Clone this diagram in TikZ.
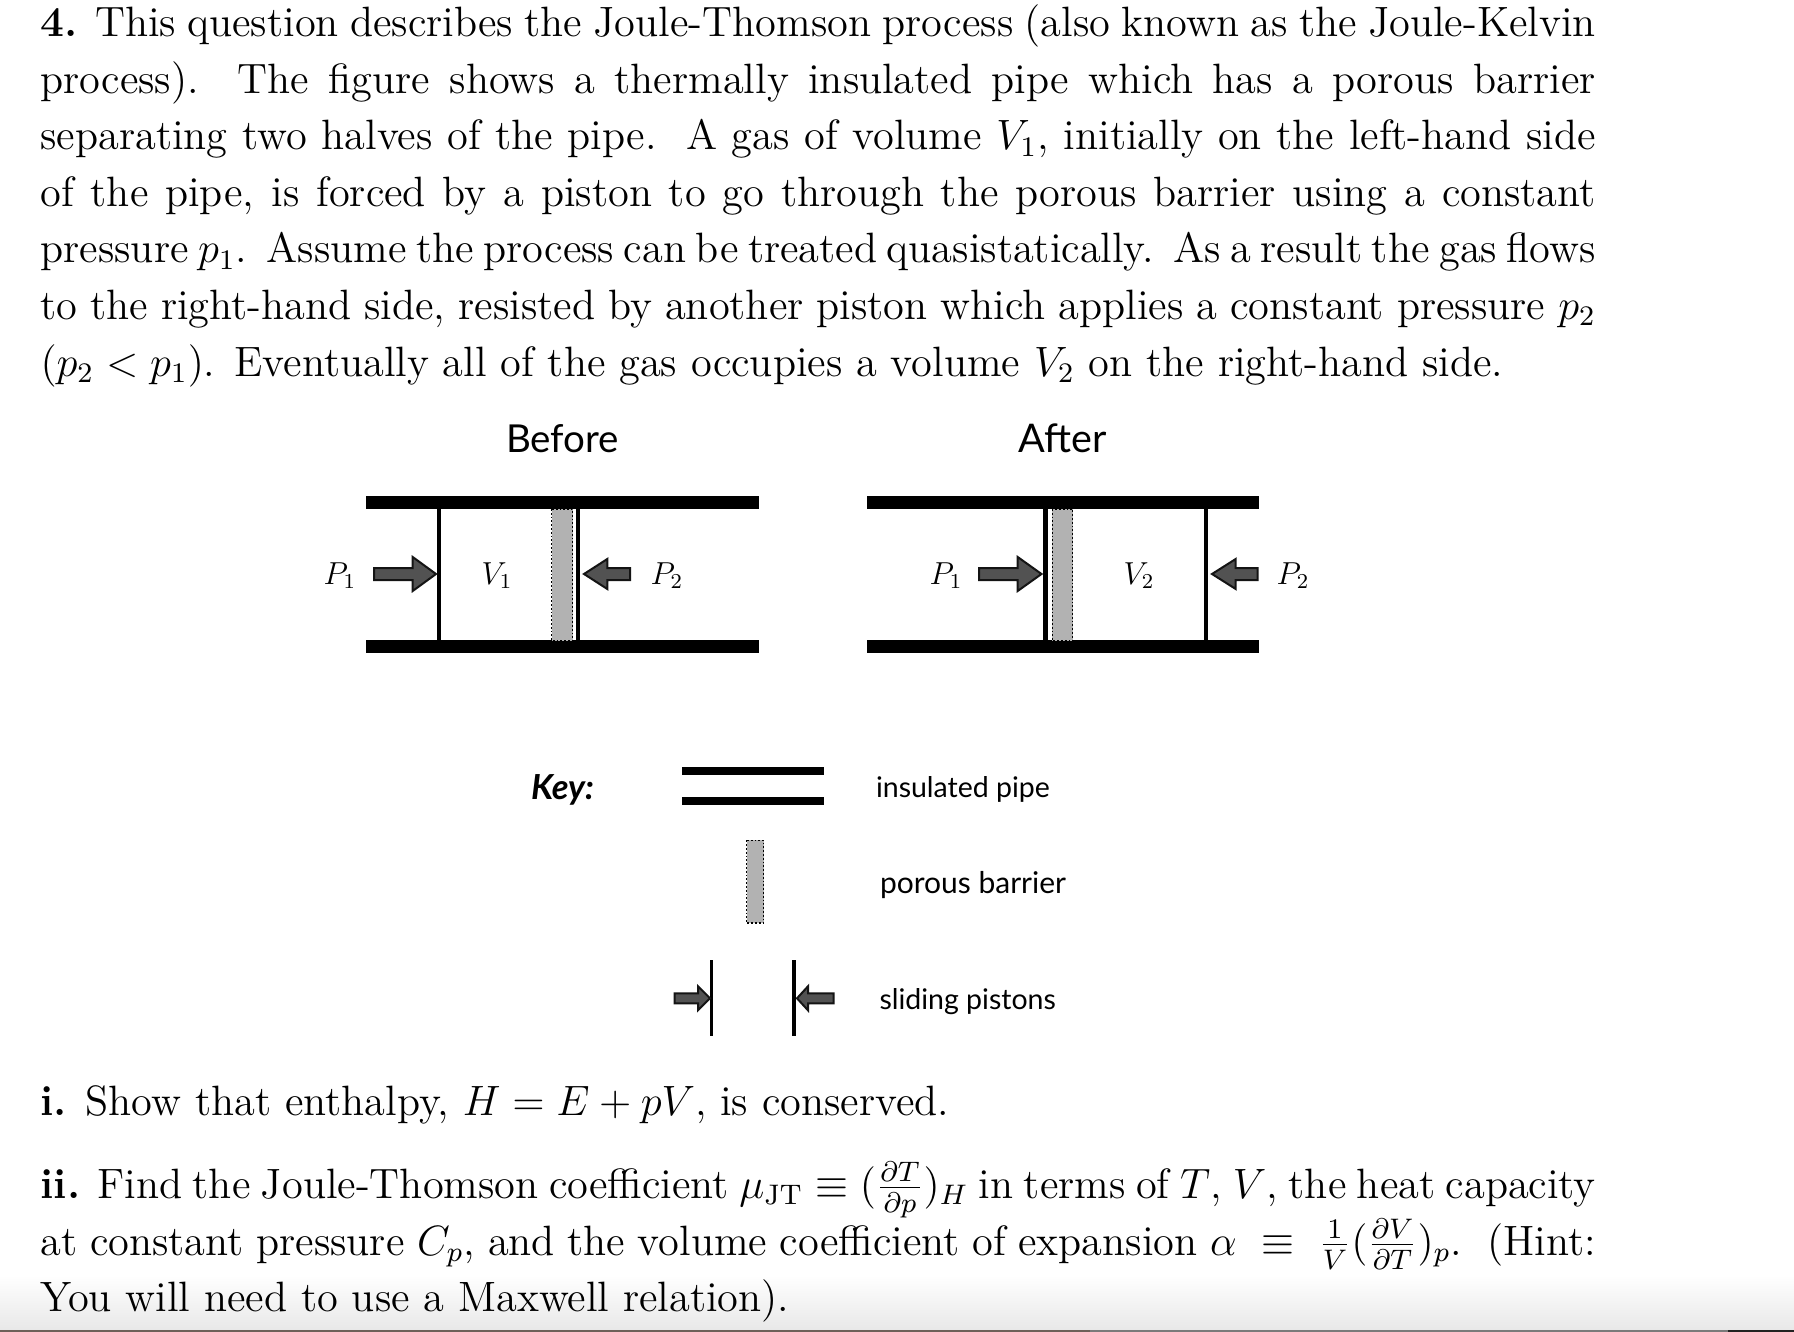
\documentclass[tikz,border=0pt]{standalone}
\usepackage{fontspec}
\usepackage{amsmath}
\newfontfamily\gillfont{Lato}
\newcommand{\bodyscale}{3.535}
\newcommand{\jline}[1]{\scalebox{\bodyscale}{\makebox[440pt][s]{\fontsize{12}{14.5}\selectfont #1}}}
\newcommand{\nline}[1]{\scalebox{\bodyscale}{\fontsize{12}{14.5}\selectfont #1}}
\newcommand{\mlabel}[1]{\scalebox{2.65}{\fontsize{12}{14.5}\selectfont$#1$}}
\newcommand{\sanslabel}[2]{{\gillfont\fontsize{#1}{#1}\selectfont #2}}
\newcommand{\pressarrow}[6]{% tip base tail y head-half shaft-half
  \draw[pressarrowstyle] (#3,#4-#6) -- (#2,#4-#6) -- (#2,#4-#5) -- (#1,#4) -- (#2,#4+#5) -- (#2,#4+#6) -- (#3,#4+#6) -- cycle;}
\definecolor{stripbrown}{HTML}{6D5F58}
\definecolor{stripgray}{HTML}{7A7A7A}
\definecolor{stripdark}{HTML}{222222}
\tikzset{
  bodytext/.style={anchor=base west,inner sep=0pt,outer sep=0pt},
  maintext/.style={anchor=base,inner sep=0pt,outer sep=0pt},
  pipebar/.style={fill=black,draw=none},
  barrier/.style={fill=black!30,draw=black,line width=1.4pt,dash pattern=on 1.8pt off 2pt},
  piston/.style={draw=black,line width=4pt},
  pressarrowstyle/.style={fill=black!68,draw=black!92,line width=2pt,miter limit=4},
}
\begin{document}
\begin{tikzpicture}[x=1pt,y=-1pt]
\useasboundingbox (0,0) rectangle (1794,1332);
\fill[white] (0,0) rectangle (1794,1332);
% bottom window shadow
\shade[top color=white,bottom color=black!9,draw=none] (0,1275) rectangle (1794,1330);
\fill[stripgray] (0,1330) rectangle (1794,1332);
\fill[stripbrown] (0,1330) rectangle (1090,1332);
\fill[stripdark] (1728,1330) rectangle (1794,1332);
% paragraph
\node[bodytext] (l1) at (40.5,37) {\jline{\textbf{4.} This question describes the Joule-Thomson process (also known as the Joule-Kelvin}};
\node[bodytext] (l2) at (40.5,93.5) {\jline{process).\ \ The figure shows a thermally insulated pipe which has a porous barrier}};
\node[bodytext] (l3) at (40.5,150) {\jline{separating two halves of the pipe.\ \ A gas of volume $V_1$, initially on the left-hand side}};
\node[bodytext] (l4) at (40.5,206.5) {\jline{of the pipe, is forced by a piston to go through the porous barrier using a constant}};
\node[bodytext] (l5) at (40.5,263) {\jline{pressure $p_1$.\ \ Assume the process can be treated quasistatically.\ \ As a result the gas flows}};
\node[bodytext] (l6) at (40.5,319.5) {\jline{to the right-hand side, resisted by another piston which applies a constant pressure $p_2$}};
\node[bodytext] (l7) at (40.5,376) {\nline{$(p_2<p_1)$.\hspace{5.4pt}Eventually all of the gas occupies a volume $V_2$ on the right-hand side.}};
% titles
\node[maintext] (before) at (562.7,452) {\sanslabel{38.5}{Before}};
\node[maintext] (after) at (1062.7,452) {\sanslabel{39.5}{After}};
% before
\fill[pipebar] (366,496.3) rectangle (758.7,509.3);
\fill[pipebar] (366,640) rectangle (758.7,653.3);
\draw[piston] (439.3,509) -- (439.3,640);
\draw[piston] (578.3,509) -- (578.3,640);
\draw[barrier] (551.7,509) rectangle (572.7,641);
\pressarrow{436}{412.7}{374}{574}{17}{6}
\pressarrow{584}{607.3}{630}{574}{15}{6}
\node[maintext] (p1a) at (340,584) {\mlabel{P_1}};
\node[maintext] (v1) at (497,584) {\mlabel{V_1}};
\node[maintext] (p2a) at (667,584) {\mlabel{P_2}};
% after
\fill[pipebar] (866.7,496.3) rectangle (1259.3,509.3);
\fill[pipebar] (866.7,640) rectangle (1259.3,653.3);
\draw[piston,line width=5pt] (1045,509) -- (1045,640);
\draw[piston] (1205.7,509) -- (1205.7,640);
\draw[barrier] (1052.3,509) rectangle (1072.7,641);
\pressarrow{1041.5}{1017.7}{979}{574}{17}{6}
\pressarrow{1212}{1235.7}{1257.5}{574}{15}{6}
\node[maintext] (p1b) at (946,584) {\mlabel{P_1}};
\node[maintext] (v2) at (1139,584) {\mlabel{V_2}};
\node[maintext] (p2b) at (1293,584) {\mlabel{P_2}};
% key
\node[bodytext] (key) at (531,799.5) {{\gillfont\bfseries\itshape\fontsize{34.5}{34.5}\selectfont Key:}};
\fill[pipebar] (681.8,767) rectangle (823.8,774.7);
\fill[pipebar] (681.8,797.3) rectangle (823.8,805);
\draw[barrier] (746.5,840.3) rectangle (763.7,923);
\draw[piston,line width=3.5pt] (711.6,960) -- (711.6,1036);
\draw[piston,line width=3.5pt] (793.9,960) -- (793.9,1036);
\pressarrow{710}{698}{674.5}{998.3}{12}{5}
\pressarrow{797}{808}{833.5}{998.3}{12}{5}
\node[bodytext] (kpipe) at (876,797.7) {\sanslabel{28.5}{insulated pipe}};
\node[bodytext] (kbar) at (880,893.7) {\sanslabel{30}{porous barrier}};
\node[bodytext] (kpist) at (879.5,1009) {\sanslabel{28.5}{sliding pistons}};
% questions
\node[bodytext] (q1) at (40.5,1115) {\nline{\textbf{i.} Show that enthalpy, $H=E+pV$, is conserved.}};
\node[bodytext] (q2) at (40.5,1198) {\jline{\textbf{ii.} Find the Joule-Thomson coefficient $\mu_{\mathrm{JT}}\equiv(\frac{\partial T}{\partial p})_H$ in terms of $T$, $V$, the heat capacity}};
\node[bodytext] (q3) at (40.5,1255) {\jline{at constant pressure $C_p$, and the volume coefficient of expansion $\alpha\ \equiv\ \frac{1}{V}(\frac{\partial V}{\partial T})_p$.\ \ (Hint:}};
\node[bodytext] (q4) at (40.5,1311) {\nline{You will need to use a Maxwell relation).}};
\end{tikzpicture}
\end{document}
